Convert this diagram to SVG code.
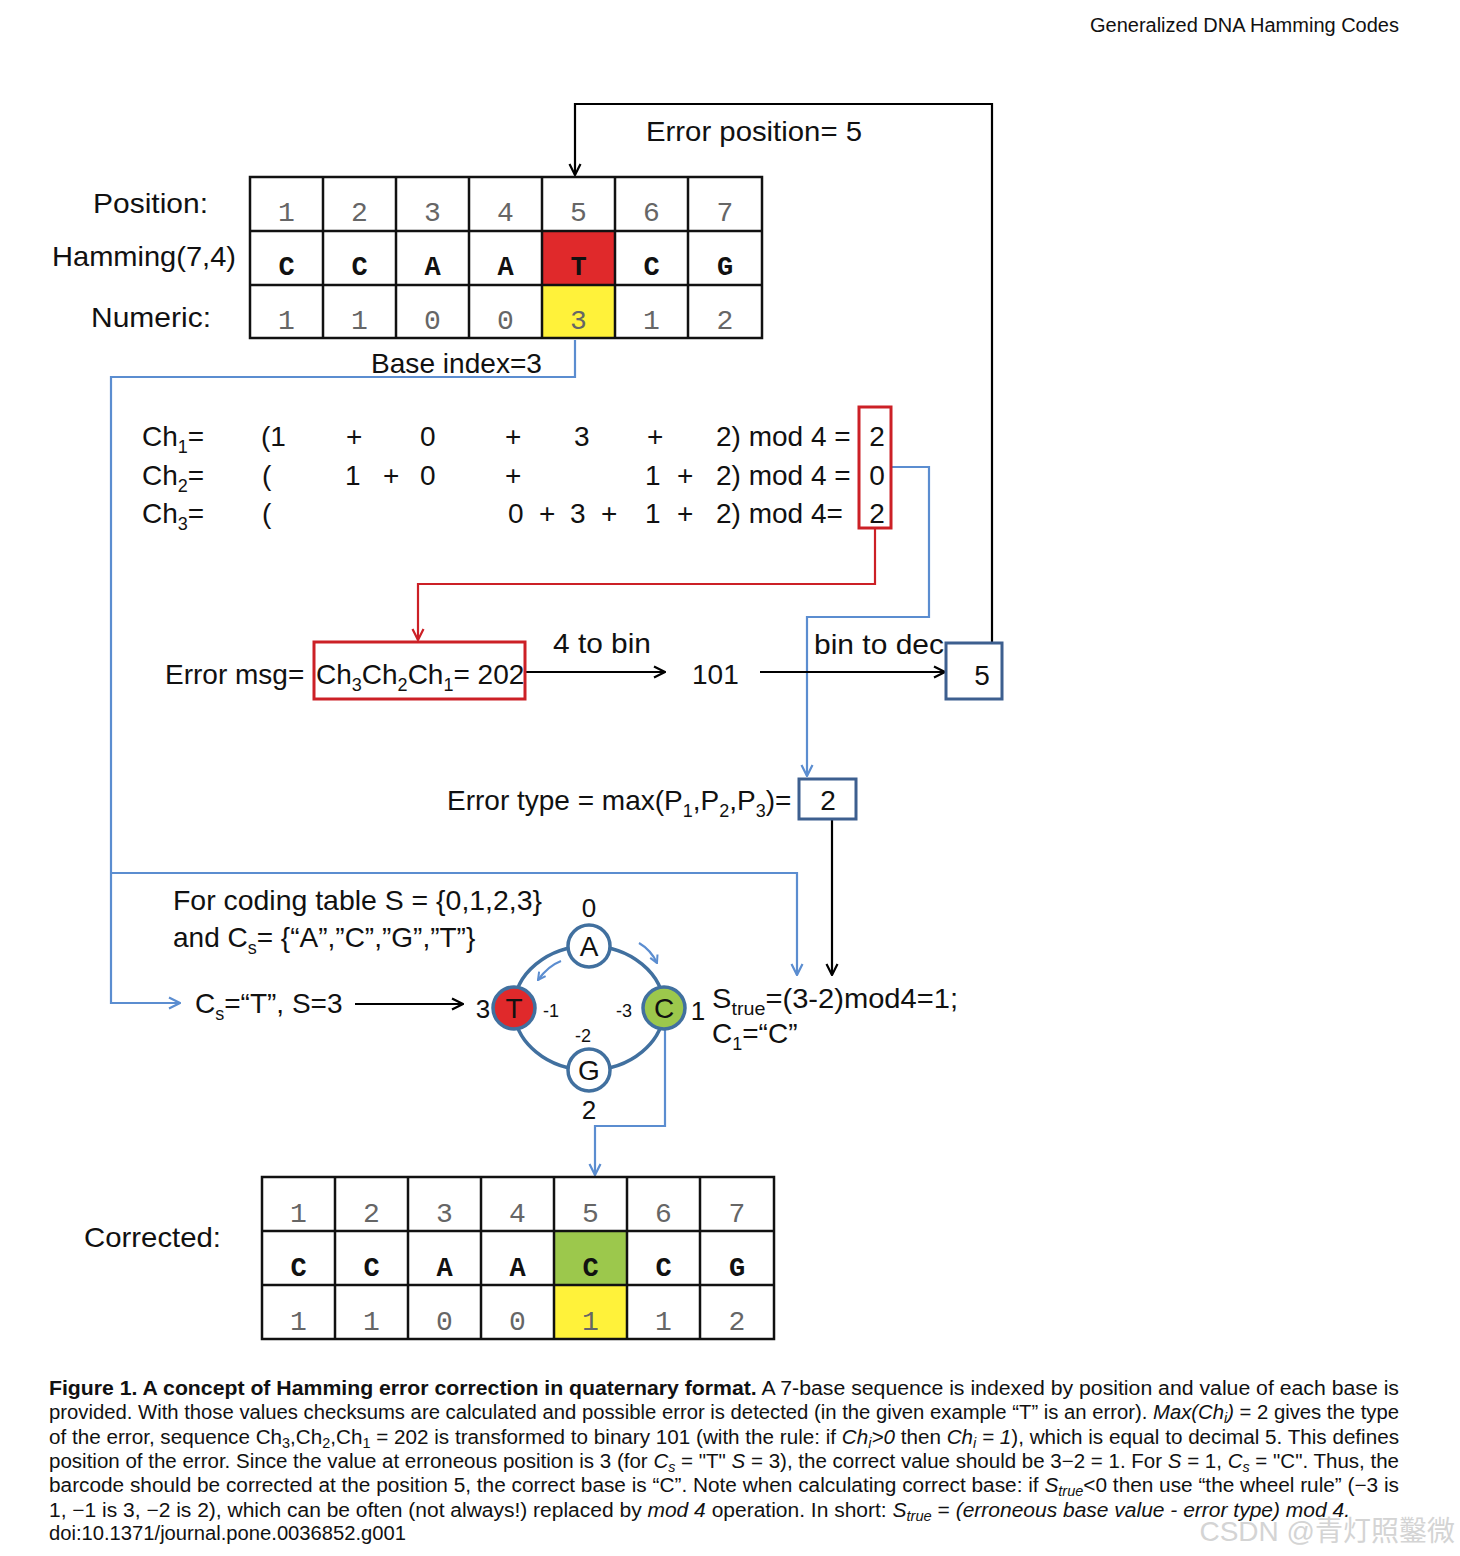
<svg xmlns="http://www.w3.org/2000/svg" width="1460" height="1556" viewBox="0 0 1460 1556">
<style>
.t{font-family:"Liberation Sans",Arial,sans-serif;font-size:28px;fill:#111}
.m{font-family:"Liberation Mono","Courier New",monospace;font-size:28px;fill:#666;text-anchor:middle}
.b{font-family:"Liberation Mono","Courier New",monospace;font-size:27px;font-weight:bold;fill:#111;text-anchor:middle}
.c{text-anchor:middle}
.grid{fill:none;stroke:#111;stroke-width:2.5}
.blue{fill:none;stroke:#5b8dd0;stroke-width:2.2}
.red{fill:none;stroke:#cc2026;stroke-width:2.2}
.blk{fill:none;stroke:#000;stroke-width:2.2}
.ring{fill:none;stroke:#41709f;stroke-width:3.5}
.node{stroke:#41709f;stroke-width:3.5}
.cap{font-family:"Liberation Sans",Arial,sans-serif;font-size:20px;fill:#111}
.sm{font-size:14px}
</style>
<defs>
<marker id="ab" viewBox="0 0 14 14" refX="13" refY="7" markerWidth="14" markerHeight="14" markerUnits="userSpaceOnUse" orient="auto"><path d="M2,1.5 L13,7 L2,12.5" fill="none" stroke="#000" stroke-width="2.2"/></marker>
<marker id="au" viewBox="0 0 14 14" refX="13" refY="7" markerWidth="14" markerHeight="14" markerUnits="userSpaceOnUse" orient="auto"><path d="M2,1.5 L13,7 L2,12.5" fill="none" stroke="#5b8dd0" stroke-width="2.2"/></marker>
<marker id="ar" viewBox="0 0 14 14" refX="13" refY="7" markerWidth="14" markerHeight="14" markerUnits="userSpaceOnUse" orient="auto"><path d="M2,1.5 L13,7 L2,12.5" fill="none" stroke="#cc2026" stroke-width="2.2"/></marker>
<marker id="as" viewBox="0 0 10 10" refX="9" refY="5" markerWidth="10" markerHeight="10" markerUnits="userSpaceOnUse" orient="auto"><path d="M1.5,1 L9,5 L1.5,9" fill="none" stroke="#5b8dd0" stroke-width="2"/></marker>
</defs>
<rect width="1460" height="1556" fill="#fff"/>

<text id="header" x="1399" y="32" class="t" style="font-size:20px;text-anchor:end">Generalized DNA Hamming Codes</text>

<g id="connectors">
<path class="blk" d="M992,643 V104 H575 V175" marker-end="url(#ab)"/>
<path class="blue" d="M575,340 V377 H111 V1003 H180" marker-end="url(#au)"/>
<path class="blue" d="M111,873 H797 V975" marker-end="url(#au)"/>
<path class="red" d="M875,528 V584 H418 V640" marker-end="url(#ar)"/>
<path class="blue" d="M891,467 H929 V617 H807 V776" marker-end="url(#au)"/>
<path class="blk" d="M525,672 H665" marker-end="url(#ab)"/>
<path class="blk" d="M760,672 H945" marker-end="url(#ab)"/>
<path class="blk" d="M832,819 V975" marker-end="url(#ab)"/>
<path class="blk" d="M355,1004 H463" marker-end="url(#ab)"/>
<path class="blue" d="M665,1030 V1126 H595 V1175" marker-end="url(#au)"/>
<path class="blue" d="M561,961 Q548,966 538,980" marker-end="url(#as)"/>
<path class="blue" d="M639,943 Q651,950 657,963" marker-end="url(#as)"/>
</g>

<g id="edge-labels">
<text x="646" y="141" class="t" textLength="216" lengthAdjust="spacingAndGlyphs">Error position= 5</text>
<text x="371" y="373" class="t" textLength="171" lengthAdjust="spacingAndGlyphs">Base index=3</text>
<text x="553" y="653" class="t" textLength="98" lengthAdjust="spacingAndGlyphs">4 to bin</text>
<text x="814" y="654" class="t" textLength="130" lengthAdjust="spacingAndGlyphs">bin to dec</text>
</g>

<g id="row-labels">
<text x="93" y="213" class="t" textLength="115" lengthAdjust="spacingAndGlyphs">Position:</text>
<text x="52" y="266" class="t" textLength="184" lengthAdjust="spacingAndGlyphs">Hamming(7,4)</text>
<text x="91" y="327" class="t" textLength="120" lengthAdjust="spacingAndGlyphs">Numeric:</text>
</g>

<g id="input-table">
<rect x="542" y="231" width="73" height="54" fill="#e0292b"/>
<rect x="542" y="285" width="73" height="53" fill="#fff23a"/>
<rect class="grid" x="250" y="177" width="512" height="161"/>
<path class="grid" d="M323,177V338M396,177V338M469,177V338M542,177V338M615,177V338M688,177V338M250,231H762M250,285H762"/>
<text class="m" y="221"><tspan x="286.5">1</tspan><tspan x="359.5">2</tspan><tspan x="432.5">3</tspan><tspan x="505.5">4</tspan><tspan x="578.5">5</tspan><tspan x="651.5">6</tspan><tspan x="725">7</tspan></text>
<text class="b" y="275"><tspan x="286.5">C</tspan><tspan x="359.5">C</tspan><tspan x="432.5">A</tspan><tspan x="505.5">A</tspan><tspan x="578.5">T</tspan><tspan x="651.5">C</tspan><tspan x="725">G</tspan></text>
<text class="m" y="329"><tspan x="286.5">1</tspan><tspan x="359.5">1</tspan><tspan x="432.5">0</tspan><tspan x="505.5">0</tspan><tspan x="578.5">3</tspan><tspan x="651.5">1</tspan><tspan x="725">2</tspan></text>
</g>

<g id="checksums">
<text x="142" y="446" class="t">Ch<tspan dy="7" font-size="18">1</tspan><tspan dy="-7">=</tspan></text>
<text x="142" y="485" class="t">Ch<tspan dy="7" font-size="18">2</tspan><tspan dy="-7">=</tspan></text>
<text x="142" y="523" class="t">Ch<tspan dy="7" font-size="18">3</tspan><tspan dy="-7">=</tspan></text>
<text class="t" y="446"><tspan x="261">(1</tspan><tspan x="346">+</tspan><tspan x="420">0</tspan><tspan x="505">+</tspan><tspan x="574">3</tspan><tspan x="647">+</tspan><tspan x="716">2) mod 4 =</tspan></text>
<text class="t" y="485"><tspan x="262">(</tspan><tspan x="345">1</tspan><tspan x="383">+</tspan><tspan x="420">0</tspan><tspan x="505">+</tspan><tspan x="645">1</tspan><tspan x="677">+</tspan><tspan x="716">2) mod 4 =</tspan></text>
<text class="t" y="523"><tspan x="262">(</tspan><tspan x="508">0</tspan><tspan x="539">+</tspan><tspan x="570">3</tspan><tspan x="601">+</tspan><tspan x="645">1</tspan><tspan x="677">+</tspan><tspan x="716">2) mod 4=</tspan></text>
</g>

<g id="checksum-result">
<rect x="859" y="407" width="32" height="121" fill="none" stroke="#cc2026" stroke-width="3"/>
<text class="t c" x="877" y="446">2</text>
<text class="t c" x="877" y="485">0</text>
<text class="t c" x="877" y="523">2</text>
</g>

<g id="error-msg">
<text x="165" y="684" class="t">Error msg=</text>
<rect x="314" y="642" width="211" height="57" fill="none" stroke="#cc2026" stroke-width="3"/>
<text x="316" y="684" class="t">Ch<tspan dy="7" font-size="18">3</tspan><tspan dy="-7">Ch</tspan><tspan dy="7" font-size="18">2</tspan><tspan dy="-7">Ch</tspan><tspan dy="7" font-size="18">1</tspan><tspan dy="-7">= 202</tspan></text>
</g>

<g id="binary">
<text x="692" y="684" class="t">101</text>
</g>

<g id="position-box">
<rect x="946" y="643" width="56" height="56" fill="#fff" stroke="#3d5f8f" stroke-width="3"/>
<text class="t c" x="982" y="685">5</text>
</g>

<g id="error-type">
<text x="447" y="810" class="t">Error type = max(P<tspan dy="7" font-size="18">1</tspan><tspan dy="-7">,P</tspan><tspan dy="7" font-size="18">2</tspan><tspan dy="-7">,P</tspan><tspan dy="7" font-size="18">3</tspan><tspan dy="-7">)=</tspan></text>
<rect x="799" y="779" width="57" height="40" fill="#fff" stroke="#3d5f8f" stroke-width="3"/>
<text class="t c" x="828" y="810">2</text>
</g>

<g id="coding-table">
<text x="173" y="910" class="t" textLength="369" lengthAdjust="spacingAndGlyphs">For coding table S = {0,1,2,3}</text>
<text x="173" y="947" class="t">and C<tspan dy="7" font-size="18">s</tspan><tspan dy="-7">= {“A”,”C”,”G”,”T”}</tspan></text>
</g>

<g id="erroneous-base">
<text x="195" y="1013" class="t">C<tspan dy="7" font-size="18">s</tspan><tspan dy="-7">=“T”, S=3</tspan></text>
</g>

<g id="wheel">
<ellipse class="ring" cx="589" cy="1008" rx="75" ry="62"/>
<circle class="node" cx="589" cy="946" r="21" fill="#fff"/>
<circle class="node" cx="589" cy="1070" r="21" fill="#fff"/>
<circle class="node" cx="514" cy="1008" r="21" fill="#e0292b"/>
<circle class="node" cx="664" cy="1008" r="21" fill="#9cc84c"/>
<text class="t c" x="589" y="956" font-size="27">A</text>
<text class="t c" x="589" y="1080" font-size="27">G</text>
<text class="t c" x="514" y="1018" font-size="27">T</text>
<text class="t c" x="664" y="1018" font-size="27">C</text>
<text class="t c" x="589" y="917" style="font-size:26px">0</text>
<text class="t c" x="589" y="1119" style="font-size:26px">2</text>
<text class="t c" x="483" y="1018" style="font-size:26px">3</text>
<text class="t c" x="698" y="1020" style="font-size:26px">1</text>
<text class="t c" x="551" y="1017" style="font-size:18px">-1</text>
<text class="t c" x="624" y="1017" style="font-size:18px">-3</text>
<text class="t c" x="583" y="1042" style="font-size:18px">-2</text>
</g>

<g id="true-value">
<text x="712" y="1008" class="t" textLength="246" lengthAdjust="spacingAndGlyphs">S<tspan dy="7" font-size="19">true</tspan><tspan dy="-7">=(3-2)mod4=1;</tspan></text>
<text x="712" y="1043" class="t">C<tspan dy="7" font-size="18">1</tspan><tspan dy="-7">=“C”</tspan></text>
</g>

<g id="corrected-table">
<text x="84" y="1247" class="t" textLength="137" lengthAdjust="spacingAndGlyphs">Corrected:</text>
<rect x="554" y="1231" width="73" height="54" fill="#9cc84c"/>
<rect x="554" y="1285" width="73" height="54" fill="#fff23a"/>
<rect class="grid" x="262" y="1177" width="512" height="162"/>
<path class="grid" d="M335,1177V1339M408,1177V1339M481,1177V1339M554,1177V1339M627,1177V1339M700,1177V1339M262,1231H774M262,1285H774"/>
<text class="m" y="1222"><tspan x="298.5">1</tspan><tspan x="371.5">2</tspan><tspan x="444.5">3</tspan><tspan x="517.5">4</tspan><tspan x="590.5">5</tspan><tspan x="663.5">6</tspan><tspan x="737">7</tspan></text>
<text class="b" y="1276"><tspan x="298.5">C</tspan><tspan x="371.5">C</tspan><tspan x="444.5">A</tspan><tspan x="517.5">A</tspan><tspan x="590.5">C</tspan><tspan x="663.5">C</tspan><tspan x="737">G</tspan></text>
<text class="m" y="1330"><tspan x="298.5">1</tspan><tspan x="371.5">1</tspan><tspan x="444.5">0</tspan><tspan x="517.5">0</tspan><tspan x="590.5">1</tspan><tspan x="663.5">1</tspan><tspan x="737">2</tspan></text>
</g>

<g id="caption">
<text class="cap" x="49" y="1395" textLength="1350" lengthAdjust="spacingAndGlyphs"><tspan font-weight="bold">Figure 1. A concept of Hamming error correction in quaternary format.</tspan> A 7-base sequence is indexed by position and value of each base is</text>
<text class="cap" x="49" y="1419" textLength="1350" lengthAdjust="spacingAndGlyphs">provided. With those values checksums are calculated and possible error is detected (in the given example “T” is an error). <tspan font-style="italic">Max(Ch</tspan><tspan font-style="italic" class="sm" dy="4">i</tspan><tspan font-style="italic" dy="-4">)</tspan> = 2 gives the type</text>
<text class="cap" x="49" y="1444" textLength="1350" lengthAdjust="spacingAndGlyphs">of the error, sequence Ch<tspan class="sm" dy="4">3</tspan><tspan dy="-4">,Ch</tspan><tspan class="sm" dy="4">2</tspan><tspan dy="-4">,Ch</tspan><tspan class="sm" dy="4">1</tspan><tspan dy="-4"> = 202 is transformed to binary 101 (with the rule: if </tspan><tspan font-style="italic">Ch</tspan><tspan font-style="italic" class="sm" dy="4">i</tspan><tspan font-style="italic" dy="-4">&gt;0</tspan> then <tspan font-style="italic">Ch</tspan><tspan font-style="italic" class="sm" dy="4">i</tspan><tspan font-style="italic" dy="-4"> = 1</tspan>), which is equal to decimal 5. This defines</text>
<text class="cap" x="49" y="1468" textLength="1350" lengthAdjust="spacingAndGlyphs">position of the error. Since the value at erroneous position is 3 (for <tspan font-style="italic">C</tspan><tspan font-style="italic" class="sm" dy="4">s</tspan><tspan dy="-4"> = "T" </tspan><tspan font-style="italic">S</tspan> = 3), the correct value should be 3−2 = 1. For <tspan font-style="italic">S</tspan> = 1, <tspan font-style="italic">C</tspan><tspan font-style="italic" class="sm" dy="4">s</tspan><tspan dy="-4"> = "C". Thus, the</tspan></text>
<text class="cap" x="49" y="1492" textLength="1350" lengthAdjust="spacingAndGlyphs">barcode should be corrected at the position 5, the correct base is “C”. Note when calculating correct base: if <tspan font-style="italic">S</tspan><tspan font-style="italic" class="sm" dy="4">true</tspan><tspan dy="-4">&lt;0 then use “the wheel rule” (−3 is</tspan></text>
<text class="cap" x="49" y="1517" textLength="1301" lengthAdjust="spacingAndGlyphs">1, −1 is 3, −2 is 2), which can be often (not always!) replaced by <tspan font-style="italic">mod 4</tspan> operation. In short: <tspan font-style="italic">S</tspan><tspan font-style="italic" class="sm" dy="4">true</tspan><tspan dy="-4"> = </tspan><tspan font-style="italic"> (erroneous base value - error type) mod 4.</tspan></text>
<text class="cap" x="49" y="1540" textLength="357" lengthAdjust="spacingAndGlyphs">doi:10.1371/journal.pone.0036852.g001</text>
</g>

<text id="watermark" x="1455" y="1541" style="font-family:'Liberation Sans','Noto Sans CJK SC',sans-serif;font-size:28px;fill:#d4d4d4;text-anchor:end">CSDN @青灯照鑿微</text>
</svg>
